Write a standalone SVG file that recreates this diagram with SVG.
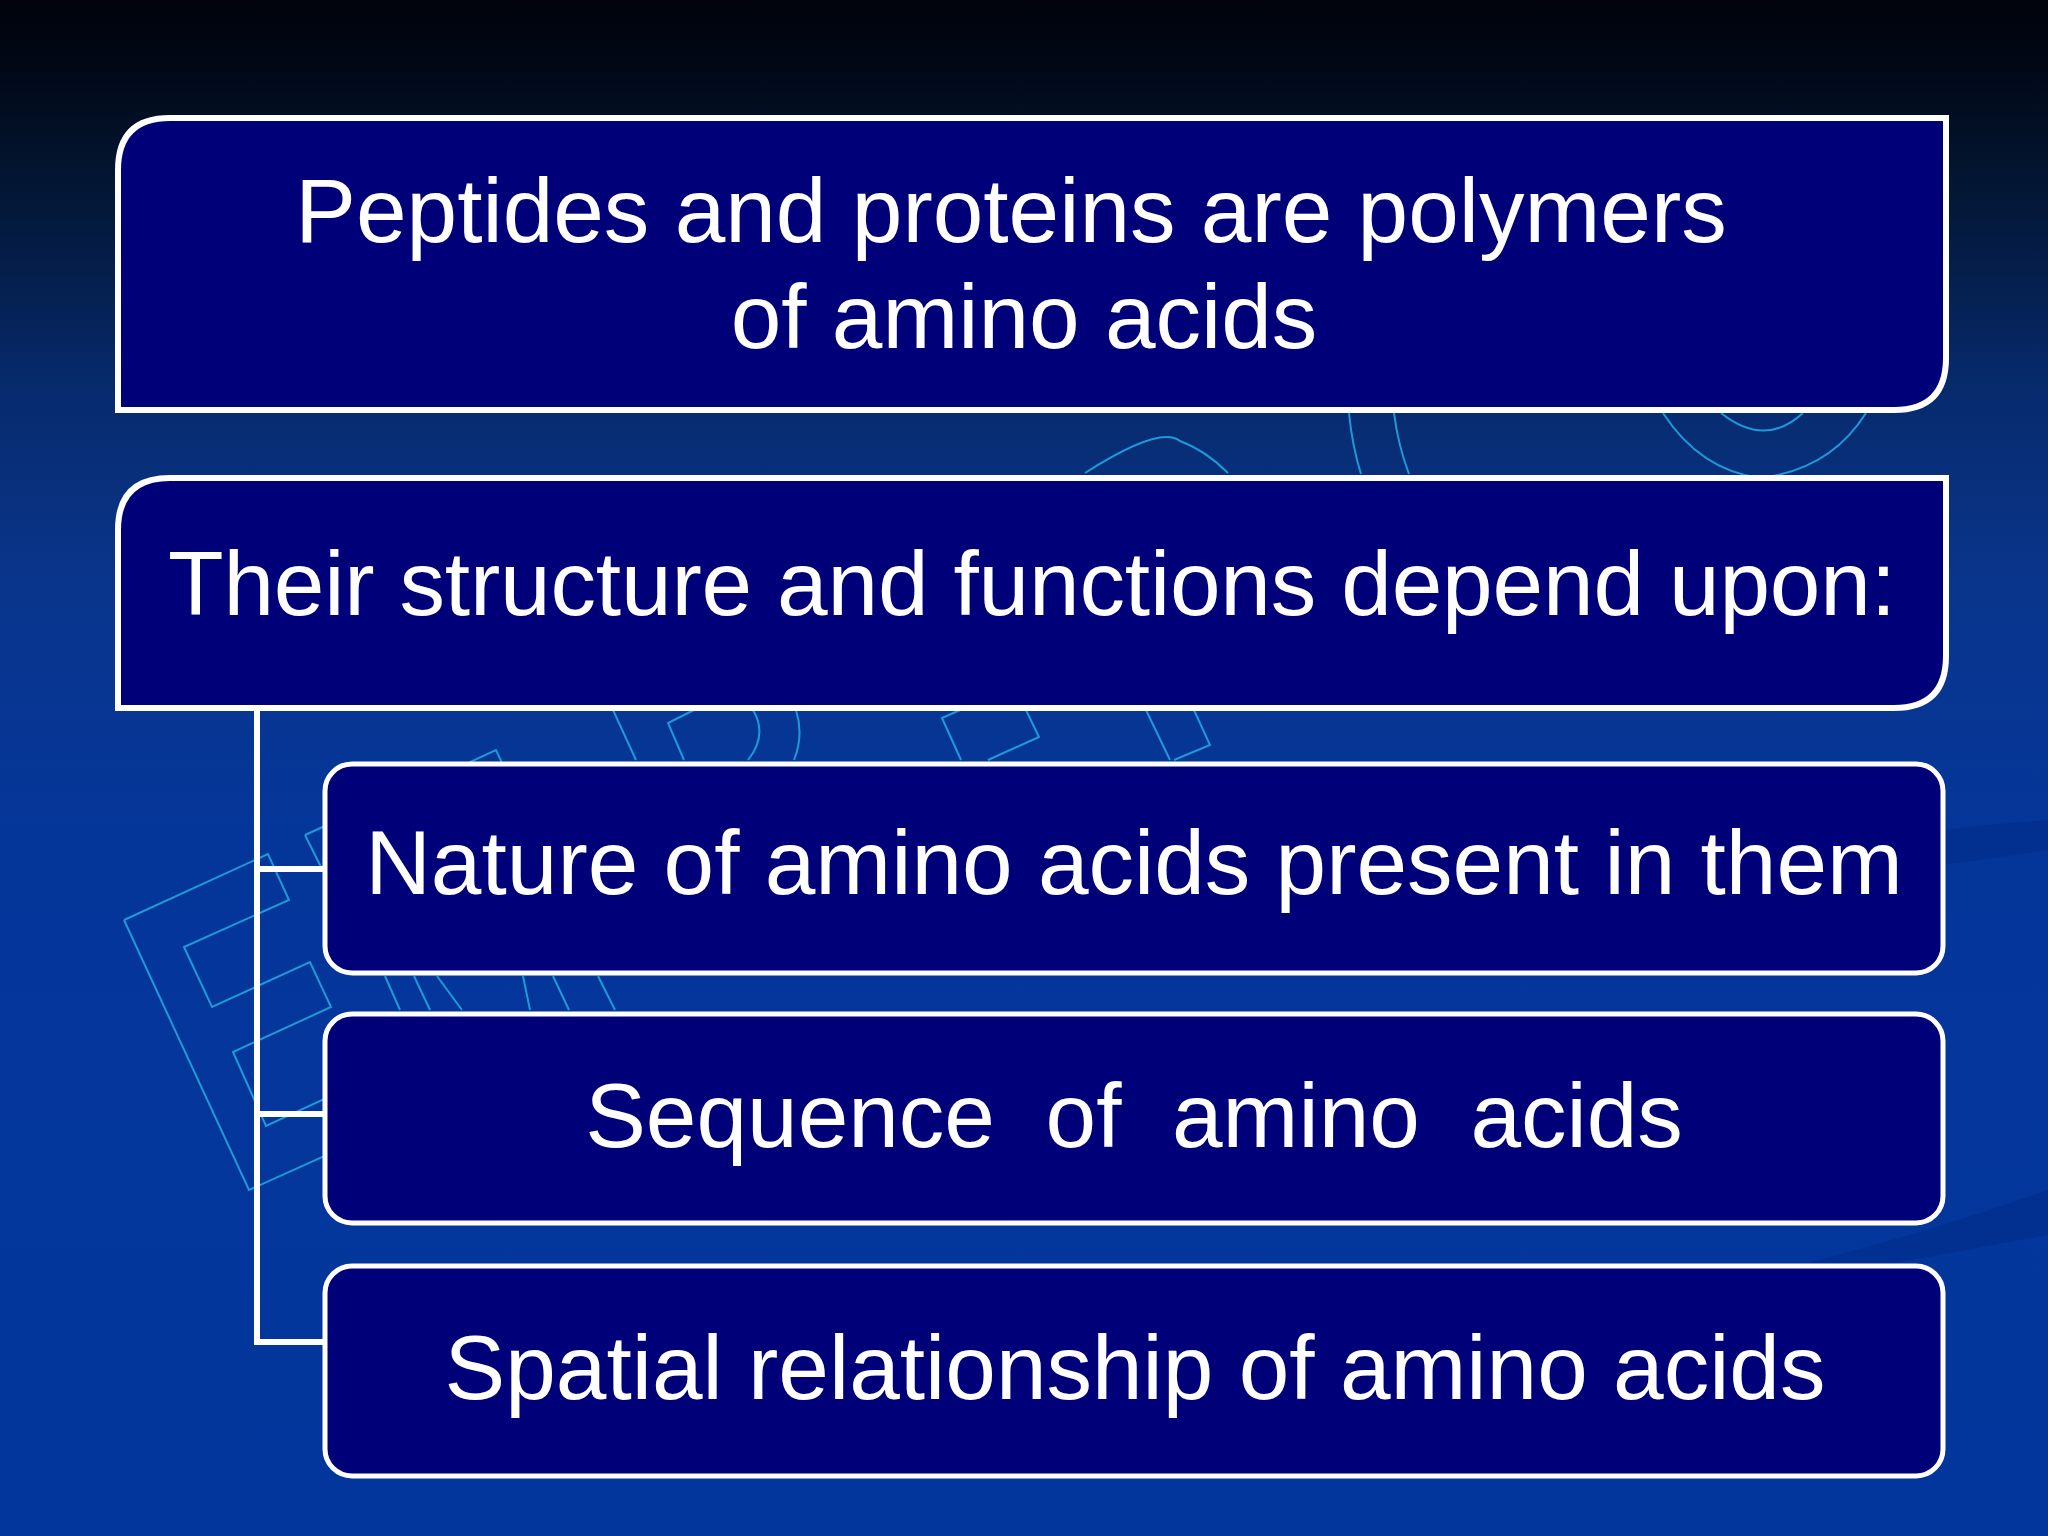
<svg xmlns="http://www.w3.org/2000/svg" width="2048" height="1536" viewBox="0 0 2048 1536">
  <defs>
    <linearGradient id="bg" x1="0" y1="0" x2="0" y2="1">
      <stop offset="0" stop-color="#00030c"/>
      <stop offset="0.03" stop-color="#000612"/>
      <stop offset="0.12" stop-color="#031633"/>
      <stop offset="0.25" stop-color="#072a6c"/>
      <stop offset="0.38" stop-color="#09358c"/>
      <stop offset="0.55" stop-color="#04369a"/>
      <stop offset="1" stop-color="#03369c"/>
    </linearGradient>
    <style>
      .box { fill: #000078; stroke: #ffffff; stroke-width: 6; }
      .sub { fill: #000078; stroke: #ffffff; stroke-width: 5; }
      .lbl { font-family: "Liberation Sans", Arial, sans-serif; font-size: 91px; fill: #ffffff; text-anchor: middle; }
      .conn { fill: none; stroke: #ffffff; stroke-width: 6; }
      .deco { fill: none; stroke: #1f9ad8; stroke-width: 2; }
      .band { fill: #022c88; opacity: 0.55; }
    </style>
  </defs>

  <!-- background -->
  <rect x="0" y="0" width="2048" height="1536" fill="url(#bg)"/>
  <path class="band" d="M1780,860 Q1900,830 2048,820 L2048,850 Q1920,870 1780,880 Z"/>
  <path class="band" d="M1640,1300 Q1850,1260 2048,1190 L2048,1235 Q1860,1270 1660,1305 Z"/>

  <!-- decorative background lines -->
  <g id="decoration">
    <path class="deco" d="M124,920 L268,854 L289,900 L184,947 L212,1007 L310,962 L331,1007 L233,1052 L266,1126 L400,1064"/>
    <path class="deco" d="M124,920 L249,1190 L400,1122"/>
    <path class="deco" d="M305,835 L400,792 M305,835 L321,867"/>
    <path class="deco" d="M440,776 L496,750 L510,780"/>
    <path class="deco" d="M385,976 L400,1010 M414,976 L430,1010 M437,976 L462,1010 M523,976 L530,1010 M553,976 L569,1010 M598,976 L615,1010"/>
    <path class="deco" d="M613,710 L636,760 M694,710 L668,723 L684,760 M753,710 Q768,735 748,760 M796,710 Q804,735 794,760 M960,710 L942,718 L961,760 M1026,710 L1039,737 L988,760 M1146,710 L1170,760 M1194,710 L1210,745 L1174,760"/>
    <path class="deco" d="M1085,473 Q1160,425 1180,441 Q1205,450 1228,473"/>
    <path class="deco" d="M1349,413 Q1352,445 1361,474 M1394,413 Q1398,445 1409,474"/>
    <path class="deco" d="M1663,413 Q1700,470 1760,478 Q1830,470 1866,413"/>
    <path class="deco" d="M1721,413 Q1765,448 1803,413"/>
  </g>

  <!-- connectors -->
  <g id="connectors">
    <path class="conn" d="M257,708 L257,1342 L324,1342"/>
    <path class="conn" d="M257,869 L324,869"/>
    <path class="conn" d="M257,1114 L324,1114"/>
  </g>

  <!-- top box -->
  <g id="node-polymers">
    <path class="box" d="M170,118 L1946,118 L1946,358 Q1946,410 1894,410 L118,410 L118,170 Q118,118 170,118 Z"/>
    <text class="lbl" x="1011" y="242">Peptides and proteins are polymers</text>
    <text class="lbl" x="1024" y="348">of amino acids</text>
  </g>

  <!-- second box -->
  <g id="node-depend">
    <path class="box" d="M170,478 L1946,478 L1946,656 Q1946,708 1894,708 L118,708 L118,530 Q118,478 170,478 Z"/>
    <text class="lbl" x="1032" y="615" textLength="1728" lengthAdjust="spacing">Their structure and functions depend upon:</text>
  </g>

  <!-- sub boxes -->
  <g id="node-nature">
    <rect class="sub" x="325" y="764" width="1618" height="209" rx="27" ry="27"/>
    <text class="lbl" x="1134" y="894">Nature of amino acids present in them</text>
  </g>
  <g id="node-sequence">
    <rect class="sub" x="325" y="1014" width="1618" height="209" rx="27" ry="27"/>
    <text class="lbl" x="1134" y="1147" xml:space="preserve">Sequence  of  amino  acids</text>
  </g>
  <g id="node-spatial">
    <rect class="sub" x="325" y="1266" width="1618" height="210" rx="27" ry="27"/>
    <text class="lbl" x="1135" y="1399">Spatial relationship of amino acids</text>
  </g>
</svg>
